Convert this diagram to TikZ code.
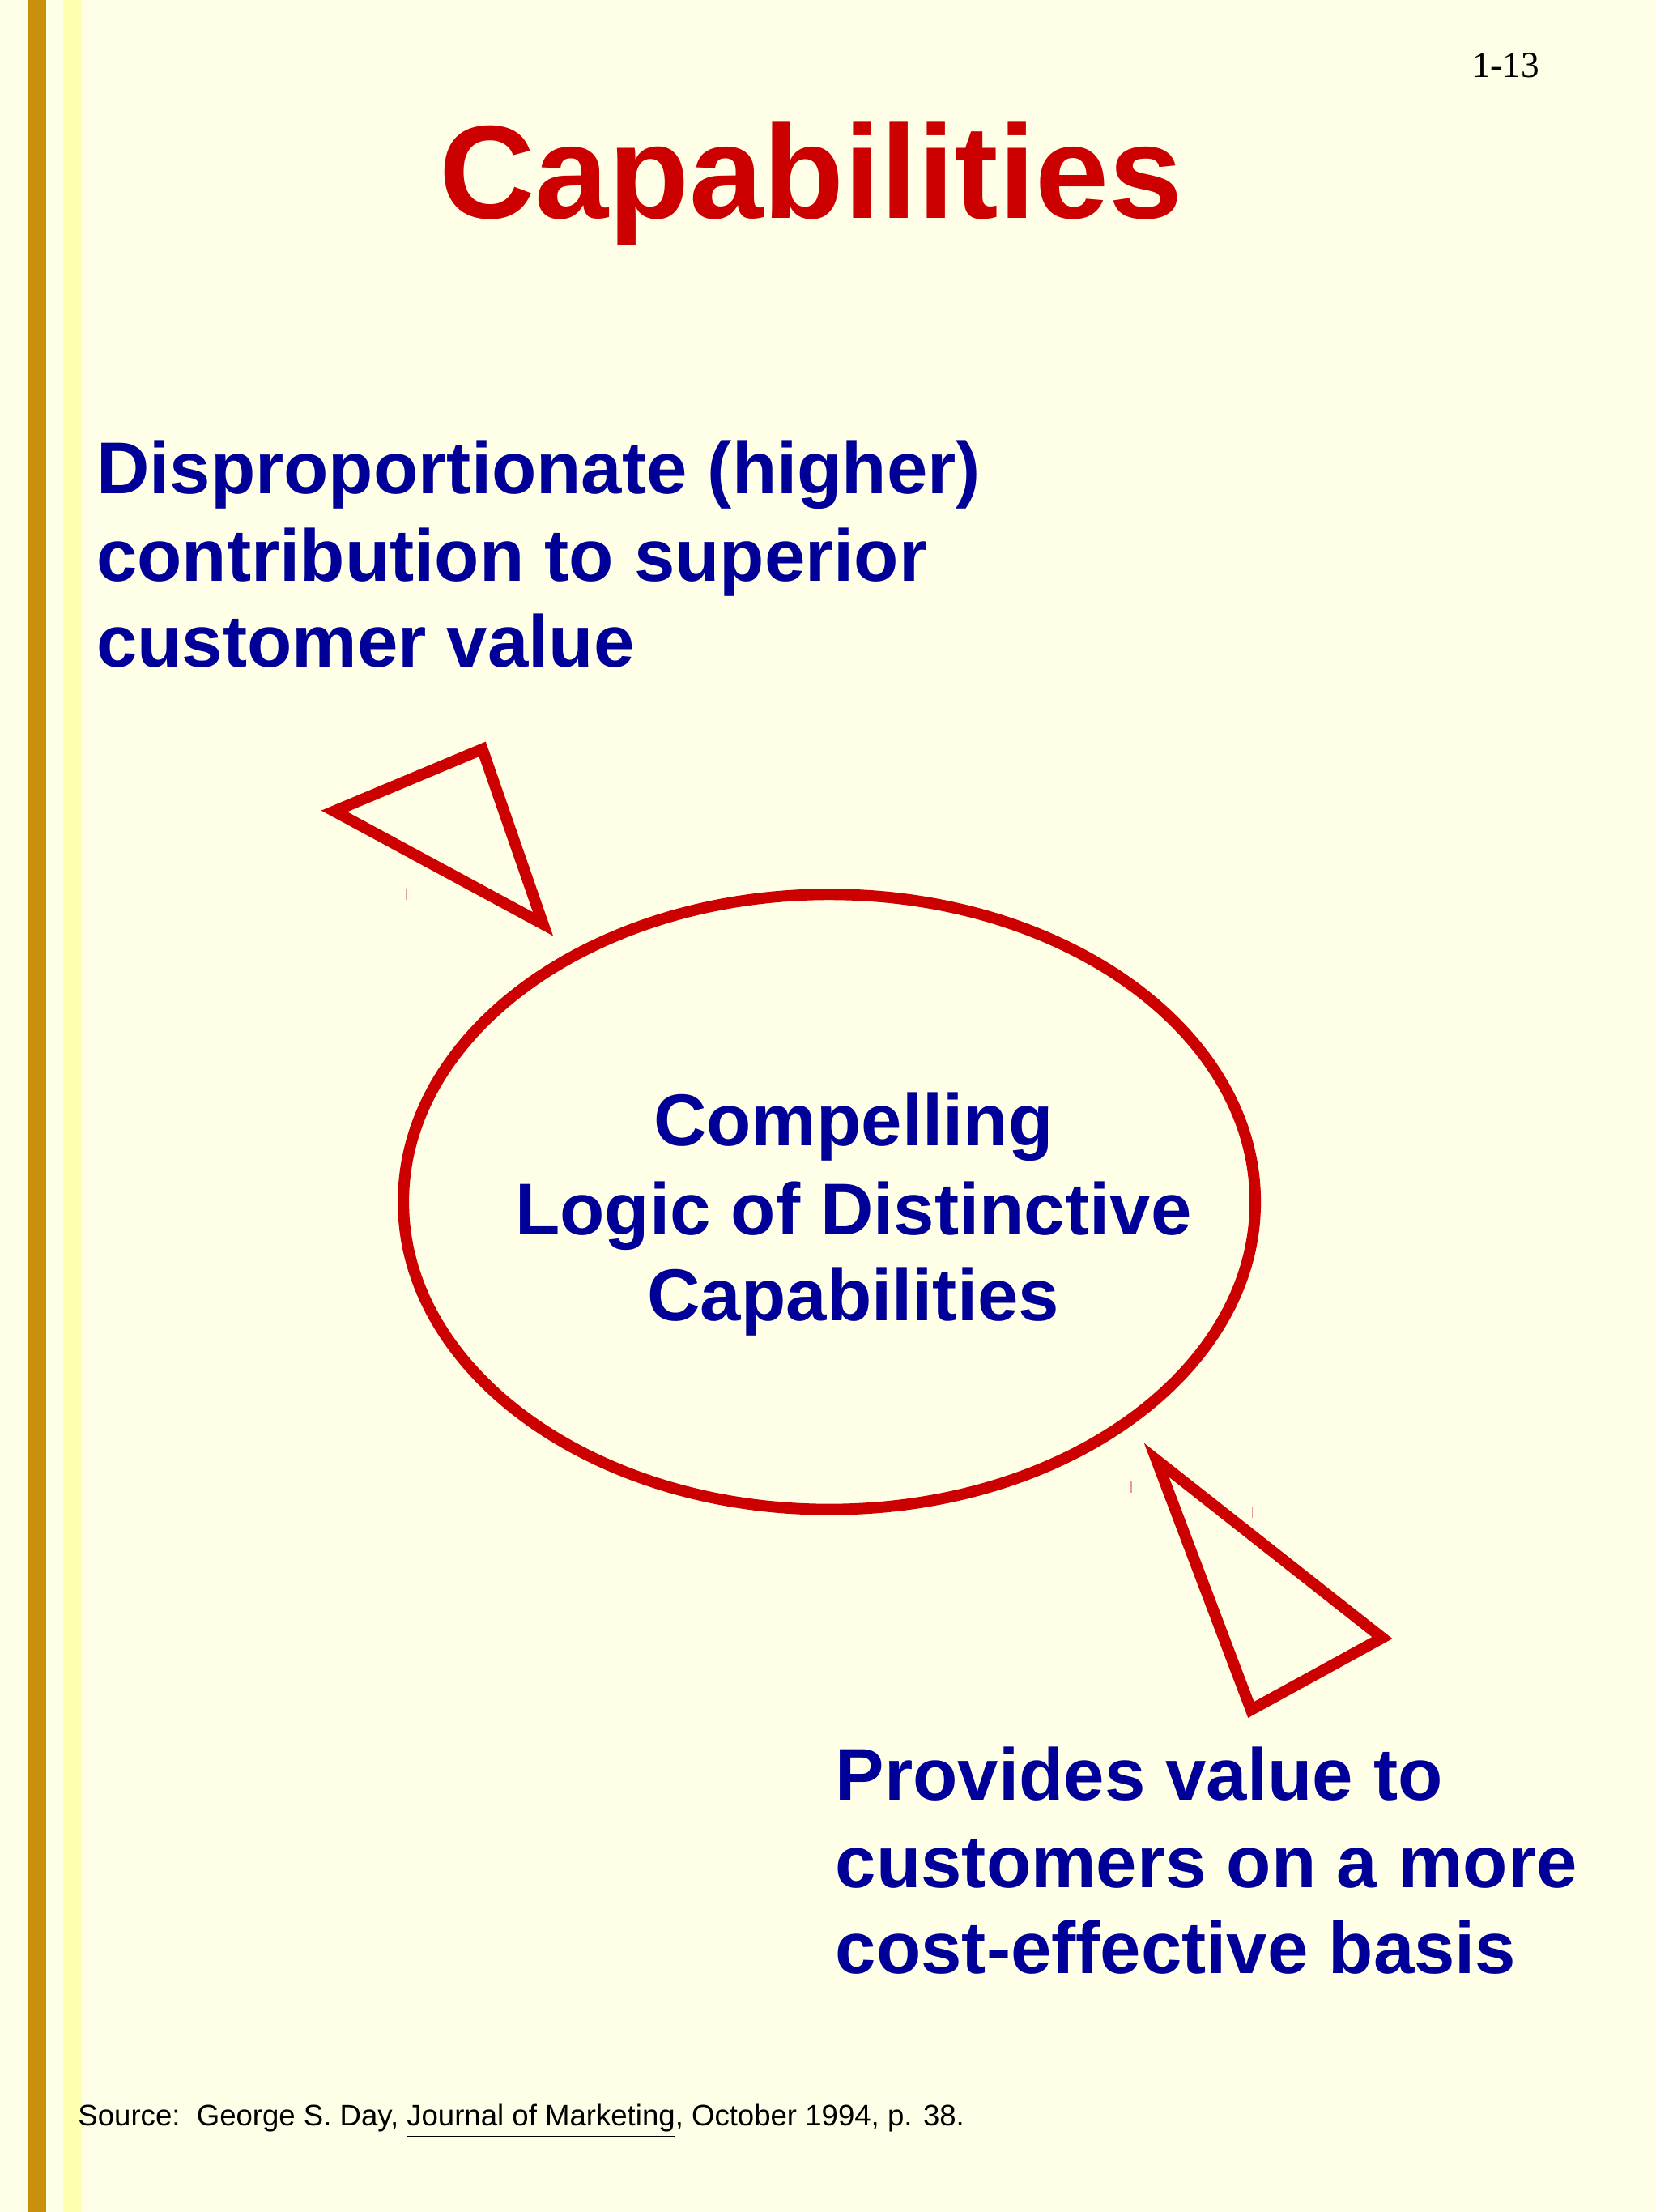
\documentclass[tikz,border=0pt]{standalone}
\usepackage{fontspec}
\setmainfont{Liberation Sans}
\newfontfamily\serifnum{Liberation Serif}
\definecolor{bg}{HTML}{FFFFE8}
\definecolor{gold}{HTML}{C8900C}
\definecolor{pale}{HTML}{FFFFB0}
\definecolor{tred}{HTML}{CC0000}
\definecolor{tblue}{HTML}{000099}
\tikzset{body/.style={font=\fontsize{26}{31}\selectfont\bfseries,text=tblue,inner sep=0pt},
 shape line/.style={draw=tred,line width=4pt,line join=miter}}
\begin{document}
\begin{tikzpicture}[x=0.5pt,y=-0.5pt]
\fill[bg] (0,0) rectangle (1174,1568);
\useasboundingbox (0,0) rectangle (1174,1568);
\fill[gold] (20,0) rectangle (33,1568);
\fill[pale] (45,0) rectangle (58,1568);
\node[anchor=base east,inner sep=0pt,font=\serifnum\fontsize{13}{15}\selectfont] (num) at (1092,55) {1-13};
\node[anchor=base,inner sep=0pt,text=tred,font=\fontsize{47}{50}\selectfont\bfseries] (title) at (575,155) {Capabilities};
\node[body,anchor=base west] (a1) at (68,350) {Disproportionate (higher)};
\node[body,anchor=base west] (a2) at (68,412) {contribution to superior};
\node[body,anchor=base west] (a3) at (68,473) {customer value};
\draw[shape line] (237,575) -- (342,531) -- (385,655) -- cycle;
\draw[shape line] (588,852) ellipse [x radius=302, y radius=218];
\node[body,anchor=base] (c1) at (605,812) {Compelling};
\node[body,anchor=base] (c2) at (605,875) {Logic of Distinctive};
\node[body,anchor=base] (c3) at (605,936) {Capabilities};
\draw[shape line] (820,1035) -- (980,1161) -- (887,1212) -- cycle;
\node[body,anchor=base west] (b1) at (592,1276) {Provides value to};
\node[body,anchor=base west] (b2) at (592,1338) {customers on a more};
\node[body,anchor=base west] (b3) at (592,1399) {cost-effective basis};
\draw[tred!40,line width=0.4pt] (288,630) -- (288,638) (802,1050) -- (802,1058) (888,1068) -- (888,1076);
\node[anchor=base west,inner sep=0pt,font=\fontsize{10.5}{12}\selectfont] (src) at (55,1507) {Source:\ \ George S. Day, \underline{Journal of Marketing}, October 1994, p. 38.};
\end{tikzpicture}
\end{document}
